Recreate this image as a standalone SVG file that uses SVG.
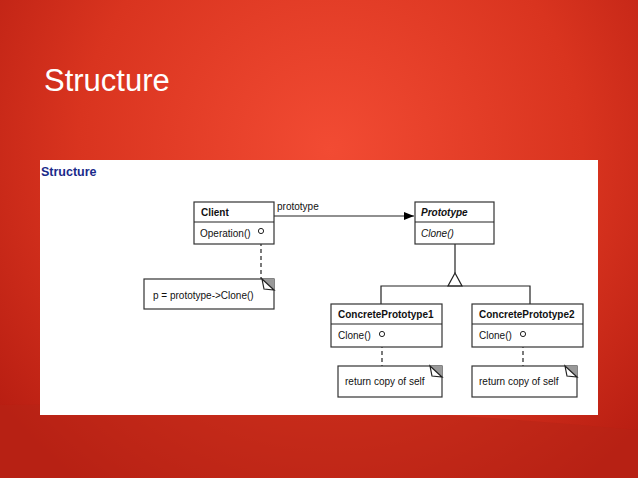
<svg xmlns="http://www.w3.org/2000/svg" width="638" height="478" viewBox="0 0 638 478">
<defs>
<radialGradient id="bg" cx="330" cy="150" r="420" gradientUnits="userSpaceOnUse">
<stop offset="0" stop-color="#f24b33"/><stop offset="0.6" stop-color="#d9341f"/><stop offset="1" stop-color="#b81e12"/>
</radialGradient>
<marker id="arr" markerWidth="10" markerHeight="8" refX="10" refY="4" orient="auto" markerUnits="userSpaceOnUse"><path d="M0,0 L10,4 L0,8 Z" fill="#000"/></marker>
</defs>
<style>
.box{fill:#fff;stroke:#333;stroke-width:1.2}
.ln{stroke:#222;stroke-width:1.2;fill:none}
.dash{stroke:#222;stroke-width:1.2;stroke-dasharray:4,3;fill:none}
.t{font-family:"Liberation Sans",Arial,sans-serif;font-size:10px;fill:#111}
.b{font-weight:bold}
.i{font-style:italic}
</style>
<rect width="638" height="478" fill="url(#bg)"/>
<path d="M0,405 Q320,400 638,430 L638,478 L0,478 Z" fill="#b52415" opacity="0.5"/>
<text x="44" y="91" font-family="'Liberation Sans',Arial,sans-serif" font-size="31" fill="#fff">Structure</text>
<rect x="40" y="160" width="558" height="255" fill="#fff"/>
<text x="41" y="176" font-family="'Liberation Sans',Arial,sans-serif" font-size="12.5" font-weight="bold" fill="#1a2a8a">Structure</text>
<g id="connectors">
<line class="ln" x1="274" y1="216" x2="414" y2="216" marker-end="url(#arr)"/>
<text class="t" x="277" y="210">prototype</text>
<line class="ln" x1="455" y1="244" x2="455" y2="273"/>
<path class="ln" d="M455,273 L448,286 L462,286 Z" fill="#fff"/>
<path class="ln" d="M381,304 L381,286 L530,286 L530,304"/>
<line class="dash" x1="261" y1="235" x2="261" y2="279"/>
<line class="dash" x1="382" y1="337" x2="382" y2="366"/>
<line class="dash" x1="523" y1="337" x2="523" y2="366"/>
</g>
<g id="client">
<rect class="box" x="194" y="202" width="80" height="42"/><line class="ln" x1="194" y1="222" x2="274" y2="222"/>
<text class="t b" x="201" y="216">Client</text><text class="t" x="200" y="237">Operation()</text>
<circle cx="261" cy="231" r="2.6" fill="#fff" stroke="#222"/>
</g>
<g id="prototype">
<rect class="box" x="415" y="202" width="79" height="42"/><line class="ln" x1="415" y1="222" x2="494" y2="222"/>
<text class="t b i" x="421" y="216">Prototype</text><text class="t i" x="421" y="237">Clone()</text>
</g>
<g id="cp1">
<rect class="box" x="331" y="304" width="111" height="43"/><line class="ln" x1="331" y1="324" x2="442" y2="324"/>
<text class="t b" x="338" y="318">ConcretePrototype1</text><text class="t" x="338" y="339">Clone()</text>
<circle cx="382" cy="334" r="2.6" fill="#fff" stroke="#222"/>
</g>
<g id="cp2">
<rect class="box" x="472" y="304" width="111" height="43"/><line class="ln" x1="472" y1="324" x2="583" y2="324"/>
<text class="t b" x="479" y="318">ConcretePrototype2</text><text class="t" x="479" y="339">Clone()</text>
<circle cx="523" cy="334" r="2.6" fill="#fff" stroke="#222"/>
</g>
<g id="note1">
<rect class="box" x="144" y="279" width="130" height="30"/>
<path d="M262,279 L274,279 L274,290 Z" fill="#999"/><path class="ln" d="M262,279 L274,290 L264,289 Z" fill="#fff"/>
<text class="t" x="153" y="299">p = prototype-&gt;Clone()</text>
</g>
<g id="note2">
<rect class="box" x="338" y="366" width="104" height="31"/>
<path d="M430,366 L442,366 L442,377 Z" fill="#999"/><path class="ln" d="M430,366 L442,377 L432,376 Z" fill="#fff"/>
<text class="t" x="345" y="385">return copy of self</text>
</g>
<g id="note3">
<rect class="box" x="472" y="366" width="105" height="31"/>
<path d="M565,366 L577,366 L577,377 Z" fill="#999"/><path class="ln" d="M565,366 L577,377 L567,376 Z" fill="#fff"/>
<text class="t" x="479" y="385">return copy of self</text>
</g>
</svg>
